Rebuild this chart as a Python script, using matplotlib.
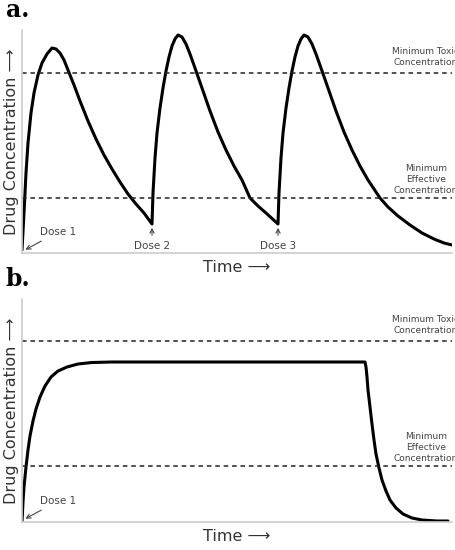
import matplotlib.pyplot as plt

# values, in pixel-like units (x from left spine, y from bottom spine)
a_x = [0, 2, 4, 6, 9, 12, 16, 20, 25, 30, 34, 38, 42, 46, 52, 58, 66, 74, 82, 90, 98, 106, 114, 122, 130,
       131, 133, 135, 138, 141, 144, 147, 150, 153, 156, 160, 164, 168, 173, 180, 188, 196, 204, 212, 220,
       228, 236, 244, 256,
       257, 259, 261, 264, 267, 270, 273, 276, 279, 282, 286, 290, 294, 299, 306, 314, 322, 330, 338, 346,
       358, 366, 376, 388, 400, 412, 422, 430]
a_y = [3, 40, 80, 110, 140, 160, 178, 190, 199, 205, 204, 200, 193, 183, 168, 152, 132, 114, 98, 84, 71, 59, 49, 40, 29,
       60, 95, 120, 145, 165, 182, 196, 207, 214, 218, 216, 209, 199, 185, 165, 142, 121, 103, 87, 73,
       55, 47, 40, 29,
       60, 95, 120, 145, 165, 182, 196, 207, 214, 218, 216, 209, 199, 185, 165, 142, 121, 103, 87, 73,
       55, 46, 37, 28, 20, 14, 10, 8]
a_toxic = 180
a_effective = 55

b_x = [0, 1, 2, 4, 6, 8, 11, 14, 18, 23, 29, 36, 45, 56, 70, 90, 343,
       344, 345, 346, 348, 350, 352, 354, 357, 360, 364, 368, 374, 381, 390, 400, 415, 426]
b_y = [0, 20, 35, 55, 72, 86, 101, 113, 125, 136, 145, 151, 155, 158, 159.5, 160, 160,
       155, 145, 132, 115, 98, 82, 68, 54, 42, 31, 22, 14, 8, 4, 2, 1, 1]
b_toxic = 181
b_effective = 56

fig = plt.figure(figsize=(4.56, 5.5), dpi=100)
W, H = 456, 550


def panel(bottom_px, xs, ys, toxic, effective, letter, doses):
    ax = fig.add_axes([22 / W, (H - bottom_px) / H, 430 / W, 223 / H])
    ax.set_xlim(0, 430)
    ax.set_ylim(0, 223)
    ax.plot(xs, ys, color='black', lw=2.2, solid_joinstyle='round', solid_capstyle='round')
    for lev in (toxic, effective):
        ax.axhline(lev, color='#222222', ls=(0, (3, 2.5)), lw=1.1)
    for s in ('top', 'right'):
        ax.spines[s].set_visible(False)
    for s in ('left', 'bottom'):
        ax.spines[s].set_color('#cccccc')
        ax.spines[s].set_linewidth(1.2)
    ax.set_xticks([])
    ax.set_yticks([])
    ax.set_ylabel('Drug Concentration \u27f6', fontsize=11.5, color='#333333', labelpad=2)
    ax.text(0.5, -0.03, 'Time \u27f6', transform=ax.transAxes, ha='center', va='top',
            fontsize=11.5, color='#333333')
    ax.text(404, toxic + 6, 'Minimum Toxic\nConcentration', ha='center', va='bottom',
            fontsize=6.5, color='#444444', linespacing=1.3)
    ax.text(404, effective + 3, 'Minimum\nEffective\nConcentration', ha='center', va='bottom',
            fontsize=6.5, color='#444444', linespacing=1.3)
    ax.annotate('Dose 1', xy=(1, 2), xytext=(18, 18), fontsize=7.5, color='#444444',
                arrowprops=dict(arrowstyle='->', color='#444444', lw=0.8))
    for dx, lab in doses:
        ax.annotate(lab, xy=(dx, 28), xytext=(dx, 4), ha='center', fontsize=7.5,
                    color='#444444',
                    arrowprops=dict(arrowstyle='->', color='#444444', lw=0.8))
    fig.text(6 / W, (H - bottom_px + 223 + 8) / H, letter, fontsize=17,
             fontweight='bold', family='DejaVu Serif', va='bottom')
    return ax


panel(253, a_x, a_y, a_toxic, a_effective, 'a.', [(130, 'Dose 2'), (256, 'Dose 3')])
panel(522, b_x, b_y, b_toxic, b_effective, 'b.', [])

fig.savefig('out.png', dpi=100)
